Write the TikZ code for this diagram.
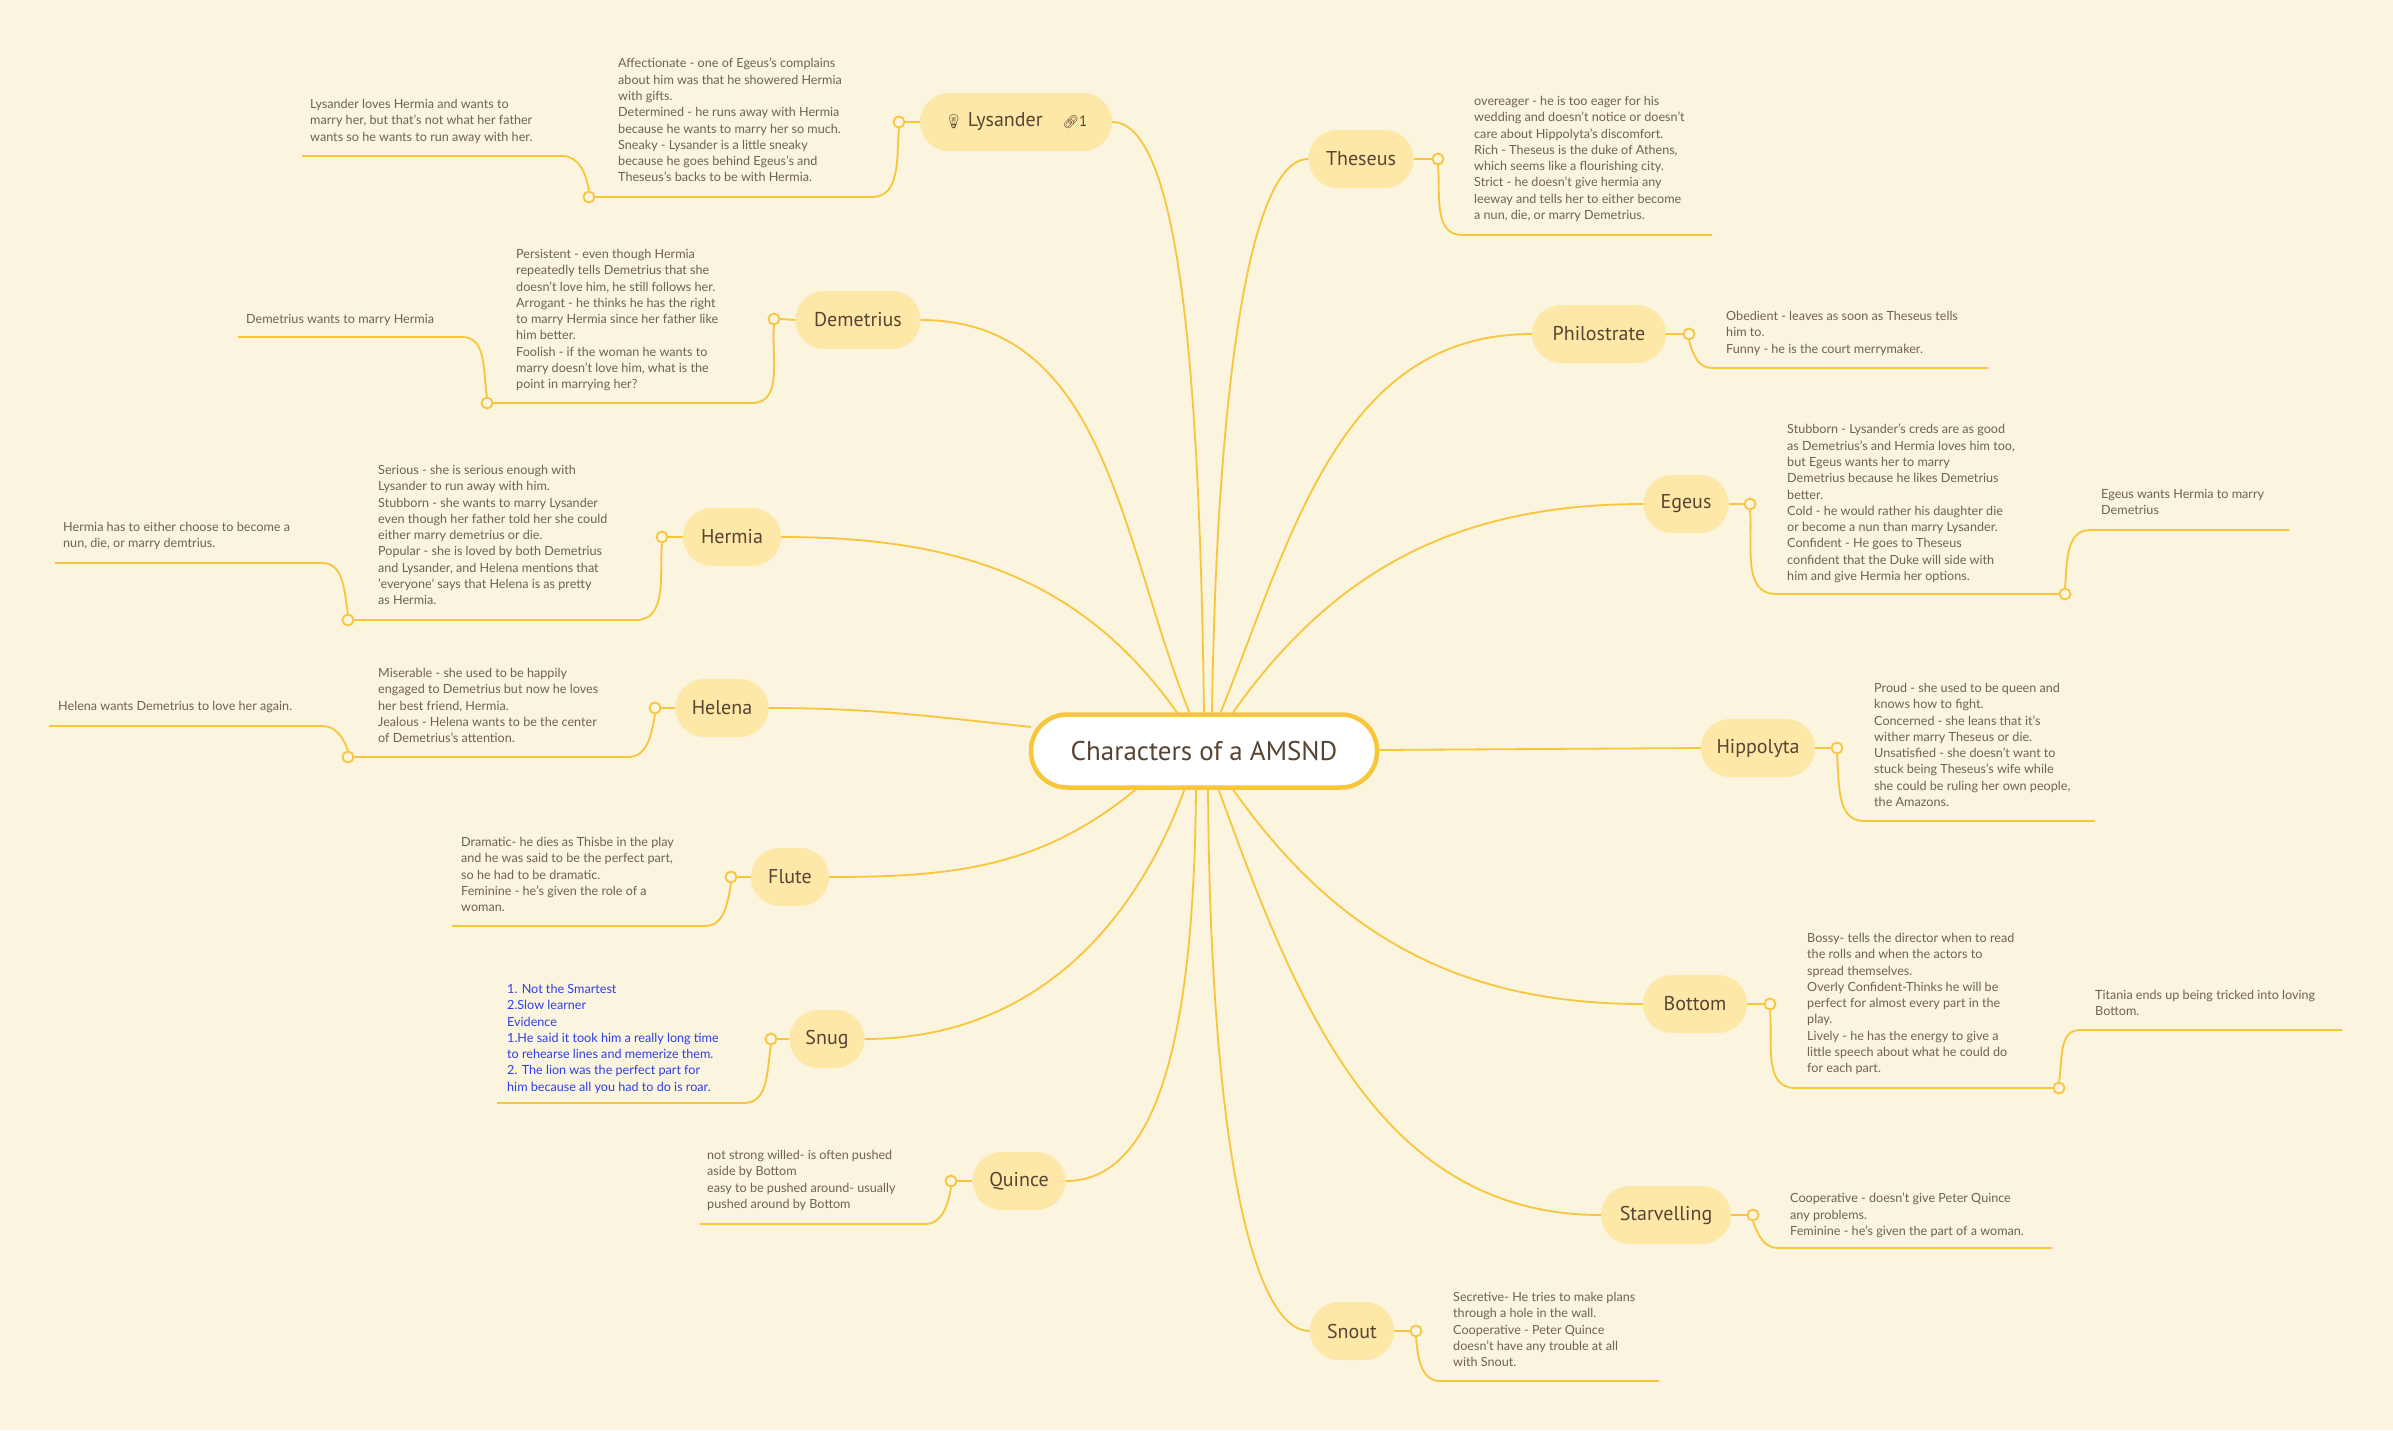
\documentclass[tikz,border=0pt]{standalone}
\usepackage{fontspec}
\setmainfont{Lato}
\newfontfamily\topicfont{PT Sans}
\newfontfamily\emo{Noto Emoji}
\definecolor{bg}{HTML}{FBF4DE}
\definecolor{ln}{HTML}{F8C63A}
\definecolor{nf}{HTML}{FEE8A8}
\definecolor{tx}{HTML}{6E6255}
\definecolor{tp}{HTML}{574432}
\definecolor{bl}{HTML}{2E3FE6}
\tikzset{
  conn/.style={draw=ln, line width=1.8pt},
  topic/.style={fill=nf, rounded corners=29pt, minimum height=58pt, text=tp, font=\topicfont\fontsize{20}{24}\selectfont, inner xsep=8pt},
  knob/.style={circle, draw=ln, fill=bg, line width=1.8pt, minimum size=11pt, inner sep=0pt},
  txt/.style={anchor=north west, inner sep=0pt, align=left, text=tx, font=\fontsize{12.6}{16.3}\selectfont},
  central/.style={draw=ln, line width=4.5pt, fill=white, rounded corners=36pt, minimum width=346pt, minimum height=73pt, text=tp, font=\topicfont\fontsize{27}{32}\selectfont},
}
\begin{document}
\begin{tikzpicture}[x=1pt,y=-1pt]
\useasboundingbox[fill=bg] (0,0) rectangle (2393,1430);

% topics
\node[topic, minimum width=192pt] (lys) at (1016,122) {{\emo\fontsize{14}{14}\selectfont 💡}\ Lysander\quad{\emo\fontsize{13}{13}\selectfont 🔗}\fontsize{15}{15}\selectfont 1};
\node[topic, minimum width=105pt] (the) at (1361,159) {Theseus};
\node[topic, minimum width=125pt] (dem) at (858,320) {Demetrius};
\node[topic, minimum width=134pt] (phi) at (1599,334) {Philostrate};
\node[topic, minimum width=98pt] (her) at (732,537) {Hermia};
\node[topic, minimum width=85pt] (ege) at (1686,504) {Egeus};
\node[topic, minimum width=93pt] (hel) at (722,708) {Helena};
\node[topic, minimum width=114pt] (hip) at (1758,748) {Hippolyta};
\node[topic, minimum width=78pt] (flu) at (790,877) {Flute};
\node[topic, minimum width=104pt] (bot) at (1695,1004) {Bottom};
\node[topic, minimum width=75pt] (snu) at (827,1039) {Snug};
\node[topic, minimum width=130pt] (sta) at (1666,1215) {Starvelling};
\node[topic, minimum width=93pt] (qui) at (1019,1181) {Quince};
\node[topic, minimum width=84pt] (sno) at (1352,1331) {Snout};

% main connectors
\coordinate (sLys) at (1204,714); \coordinate (sDem) at (1190,714); \coordinate (sHer) at (1178,714);
\coordinate (sThe) at (1212,714); \coordinate (sPhi) at (1220,714); \coordinate (sEge) at (1232,714);
\coordinate (sHel) at (1031,727); \coordinate (sHip) at (1378,750);
\coordinate (sFlu) at (1140,786); \coordinate (sSnu) at (1185,788); \coordinate (sQui) at (1196,788);
\coordinate (sSno) at (1208,788); \coordinate (sSta) at (1218,788); \coordinate (sBot) at (1232,788);
\draw[conn] (sLys) .. controls (1200,420) and (1185,122) .. (lys.east);
\draw[conn] (sDem) to[out=112,in=0] (dem.east);
\draw[conn] (sHer) to[out=125,in=0] (her.east);
\draw[conn] (sThe) .. controls (1216,420) and (1245,159) .. (the.west);
\draw[conn] (sPhi) to[out=68,in=180] (phi.west);
\draw[conn] (sEge) to[out=55,in=180] (ege.west);
\draw[conn] (sHel) to[out=174,in=0] (hel.east);
\draw[conn] (sHip) -- (hip.west);
\draw[conn] (sFlu) to[out=-140,in=0] (flu.east);
\draw[conn] (sSnu) to[out=-110,in=0] (snu.east);
\draw[conn] (sQui) .. controls (1194,1060) and (1150,1181) .. (qui.east);
\draw[conn] (sSno) .. controls (1210,1130) and (1250,1331) .. (sno.west);
\draw[conn] (sSta) to[out=-70,in=180] (sta.west);
\draw[conn] (sBot) to[out=-55,in=180] (bot.west);
\node[central] (c) at (1204,751) {Characters of a AMSND};

% ---------- Lysander
\node[knob] (kLys) at (899,122) {};
\draw[conn] (lys.west) -- (kLys.east);
\node[knob] (kLys2) at (589,197) {};
\draw[conn] (kLys.south) to[out=-95,in=0] (872,197) -- (kLys2.east);
\draw[conn] (kLys2.north) to[out=100,in=0] (562,156) -- (302,156);
\node[txt] (tLys) at (618,58) {Affectionate - one of Egeus's complains\\about him was that he showered Hermia\\with gifts.\\Determined - he runs away with Hermia\\because he wants to marry her so much.\\Sneaky - Lysander is a little sneaky\\because he goes behind Egeus's and\\Theseus's backs to be with Hermia.};
\node[txt] (tLys2) at (310,99) {Lysander loves Hermia and wants to\\marry her, but that's not what her father\\wants so he wants to run away with her.};

% ---------- Demetrius
\node[knob] (kDem) at (774,319) {};
\draw[conn] (dem.west) -- (kDem.east);
\node[knob] (kDem2) at (487,403) {};
\draw[conn] (kDem.south) to[out=-95,in=0] (752,403) -- (kDem2.east);
\draw[conn] (kDem2.north) to[out=100,in=0] (462,337) -- (238,337);
\node[txt] (tDem) at (516,249) {Persistent - even though Hermia\\repeatedly tells Demetrius that she\\doesn't love him, he still follows her.\\Arrogant - he thinks he has the right\\to marry Hermia since her father like\\him better.\\Foolish - if the woman he wants to\\marry doesn't love him, what is the\\point in marrying her?};
\node[txt] (tDem2) at (246,314) {Demetrius wants to marry Hermia};

% ---------- Hermia
\node[knob] (kHer) at (662,537) {};
\draw[conn] (her.west) -- (kHer.east);
\node[knob] (kHer2) at (348,620) {};
\draw[conn] (kHer.south) to[out=-95,in=0] (636,620) -- (kHer2.east);
\draw[conn] (kHer2.north) to[out=100,in=0] (322,563) -- (55,563);
\node[txt] (tHer) at (378,465) {Serious - she is serious enough with\\Lysander to run away with him.\\Stubborn - she wants to marry Lysander\\even though her father told her she could\\either marry demetrius or die.\\Popular - she is loved by both Demetrius\\and Lysander, and Helena mentions that\\'everyone' says that Helena is as pretty\\as Hermia.};
\node[txt] (tHer2) at (63,522) {Hermia has to either choose to become a\\nun, die, or marry demtrius.};

% ---------- Helena
\node[knob] (kHel) at (655,708) {};
\draw[conn] (hel.west) -- (kHel.east);
\node[knob] (kHel2) at (348,757) {};
\draw[conn] (kHel.south) to[out=-100,in=0] (628,757) -- (kHel2.east);
\draw[conn] (kHel2.north) to[out=110,in=0] (322,726) -- (49,726);
\node[txt] (tHel) at (378,668) {Miserable - she used to be happily\\engaged to Demetrius but now he loves\\her best friend, Hermia.\\Jealous - Helena wants to be the center\\of Demetrius's attention.};
\node[txt] (tHel2) at (58,701) {Helena wants Demetrius to love her again.};

% ---------- Flute
\node[knob] (kFlu) at (731,877) {};
\draw[conn] (flu.west) -- (kFlu.east);
\draw[conn] (kFlu.south) to[out=-100,in=0] (705,926) -- (452,926);
\node[txt] (tFlu) at (461,837) {Dramatic- he dies as Thisbe in the play\\and he was said to be the perfect part,\\so he had to be dramatic.\\Feminine - he's given the role of a\\woman.};

% ---------- Snug
\node[knob] (kSnu) at (771,1039) {};
\draw[conn] (snu.west) -- (kSnu.east);
\draw[conn] (kSnu.south) to[out=-100,in=0] (744,1103) -- (497,1103);
\node[txt, text=bl] (tSnu) at (507,984) {1. Not the Smartest\\2.Slow learner\\Evidence\\1.He said it took him a really long time\\to rehearse lines and memerize them.\\2. The lion was the perfect part for\\him because all you had to do is roar.};

% ---------- Quince
\node[knob] (kQui) at (951,1181) {};
\draw[conn] (qui.west) -- (kQui.east);
\draw[conn] (kQui.south) to[out=-100,in=0] (925,1224) -- (700,1224);
\node[txt] (tQui) at (707,1150) {not strong willed- is often pushed\\aside by Bottom\\easy to be pushed around- usually\\pushed around by Bottom};

% ---------- Theseus
\node[knob] (kThe) at (1438,159) {};
\draw[conn] (the.east) -- (kThe.west);
\draw[conn] (kThe.south) to[out=-85,in=180] (1462,235) -- (1712,235);
\node[txt] (tThe) at (1474,96) {overeager - he is too eager for his\\wedding and doesn't notice or doesn't\\care about Hippolyta's discomfort.\\Rich - Theseus is the duke of Athens,\\which seems like a flourishing city.\\Strict - he doesn't give hermia any\\leeway and tells her to either become\\a nun, die, or marry Demetrius.};

% ---------- Philostrate
\node[knob] (kPhi) at (1689,334) {};
\draw[conn] (phi.east) -- (kPhi.west);
\draw[conn] (kPhi.south) to[out=-75,in=180] (1712,368) -- (1988,368);
\node[txt] (tPhi) at (1726,311) {Obedient - leaves as soon as Theseus tells\\him to.\\Funny - he is the court merrymaker.};

% ---------- Egeus
\node[knob] (kEge) at (1750,504) {};
\draw[conn] (ege.east) -- (kEge.west);
\node[knob] (kEge2) at (2065,594) {};
\draw[conn] (kEge.south) to[out=-85,in=180] (1776,594) -- (kEge2.west);
\draw[conn] (kEge2.north) to[out=85,in=180] (2090,530) -- (2289,530);
\node[txt] (tEge) at (1787,424) {Stubborn - Lysander's creds are as good\\as Demetrius's and Hermia loves him too,\\but Egeus wants her to marry\\Demetrius because he likes Demetrius\\better.\\Cold - he would rather his daughter die\\or become a nun than marry Lysander.\\Confident - He goes to Theseus\\confident that the Duke will side with\\him and give Hermia her options.};
\node[txt] (tEge2) at (2101,489) {Egeus wants Hermia to marry\\Demetrius};

% ---------- Hippolyta
\node[knob] (kHip) at (1837,748) {};
\draw[conn] (hip.east) -- (kHip.west);
\draw[conn] (kHip.south) to[out=-85,in=180] (1864,821) -- (2095,821);
\node[txt] (tHip) at (1874,683) {Proud - she used to be  queen and\\knows how to fight.\\Concerned - she leans that it's\\wither marry Theseus or die.\\Unsatisfied - she doesn't want to\\stuck being Theseus's wife while\\she could be ruling her own people,\\the Amazons.};

% ---------- Bottom
\node[knob] (kBot) at (1770,1004) {};
\draw[conn] (bot.east) -- (kBot.west);
\node[knob] (kBot2) at (2059,1088) {};
\draw[conn] (kBot.south) to[out=-85,in=180] (1795,1088) -- (kBot2.west);
\draw[conn] (kBot2.north) to[out=80,in=180] (2080,1030) -- (2342,1030);
\node[txt] (tBot) at (1807,933) {Bossy- tells the director when to read\\the rolls and when the actors to\\spread themselves.\\Overly Confident-Thinks he will be\\perfect for almost every part in the\\play.\\Lively - he has the energy to give a\\little speech about what he could do\\for each part.};
\node[txt] (tBot2) at (2095,990) {Titania ends up being tricked into loving\\Bottom.};

% ---------- Starvelling
\node[knob] (kSta) at (1753,1215) {};
\draw[conn] (sta.east) -- (kSta.west);
\draw[conn] (kSta.south) to[out=-70,in=180] (1778,1248) -- (2052,1248);
\node[txt] (tSta) at (1790,1193) {Cooperative - doesn't give Peter Quince\\any problems.\\Feminine - he's given the part of a woman.};

% ---------- Snout
\node[knob] (kSno) at (1416,1331) {};
\draw[conn] (sno.east) -- (kSno.west);
\draw[conn] (kSno.south) to[out=-85,in=180] (1440,1381) -- (1659,1381);
\node[txt] (tSno) at (1453,1292) {Secretive- He tries to make plans\\through a hole in the wall.\\Cooperative - Peter Quince\\doesn't have any trouble at all\\with Snout.};
\end{tikzpicture}
\end{document}
